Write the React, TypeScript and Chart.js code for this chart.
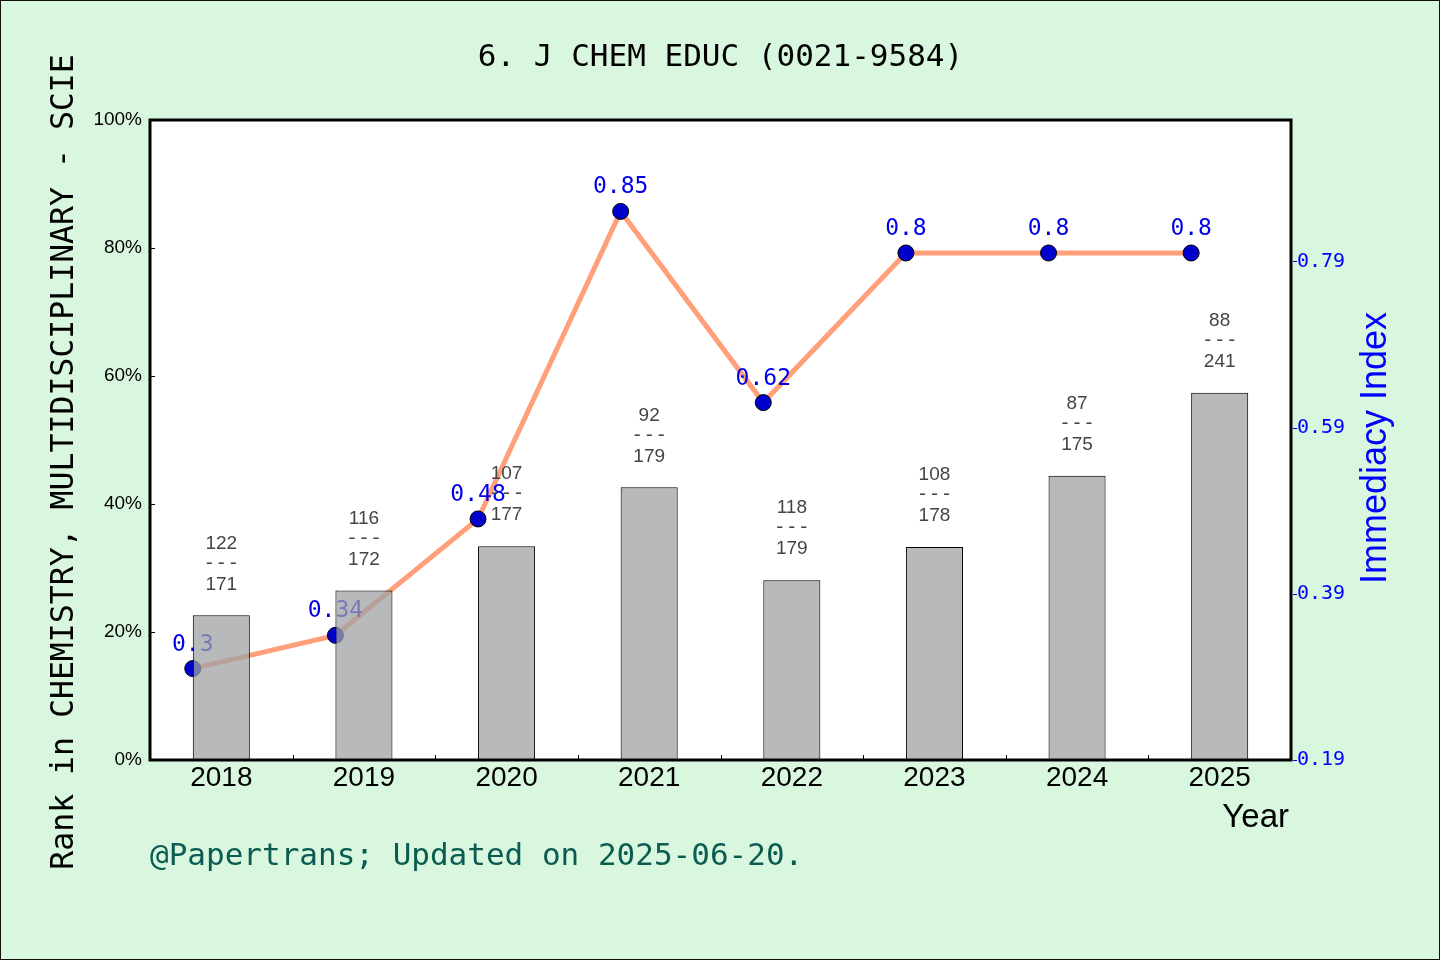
import { useEffect, useRef } from "react";
import { Chart, registerables } from "chart.js";

Chart.register(...registerables);

const years = ["2018", "2019", "2020", "2021", "2022", "2023", "2024", "2025"];
const rankPercent = [22.6, 26.5, 33.4, 42.6, 28.1, 33.3, 44.4, 57.4];
const ranks = [122, 116, 107, 92, 118, 108, 87, 88];
const totals = [171, 172, 177, 179, 179, 178, 175, 241];
const immediacy = [0.3, 0.34, 0.48, 0.85, 0.62, 0.8, 0.8, 0.8];
const immediacyLabels = ["0.3", "0.34", "0.48", "0.85", "0.62", "0.8", "0.8", "0.8"];
const leftTicks = [0, 20, 40, 60, 80, 100];
const rightTicks = [0.19, 0.39, 0.59, 0.79];

const TITLE = "6. J CHEM EDUC (0021-9584)";
const LEFT_TITLE = "Rank in CHEMISTRY, MULTIDISCIPLINARY - SCIE";
const RIGHT_TITLE = "Immediacy Index";
const X_TITLE = "Year";
const FOOTER = "@Papertrans; Updated on 2025-06-20.";

const LINE_SHIFT = -0.2;
const BG = "#d9f7de";
const MONO = "'DejaVu Sans Mono', monospace";
const SANS = "'Liberation Sans', Arial, sans-serif";

const decorPlugin = {
  id: "decor",
  beforeDraw(chart: any) {
    const { ctx, width, height, chartArea: a } = chart;
    ctx.save();
    ctx.fillStyle = BG;
    ctx.fillRect(0, 0, width, height);
    ctx.fillStyle = "#ffffff";
    ctx.fillRect(a.left, a.top, a.right - a.left, a.bottom - a.top);
    ctx.strokeStyle = "#111";
    ctx.lineWidth = 1;
    ctx.strokeRect(0.5, 0.5, width - 1, height - 1);
    ctx.restore();
  },
  afterDatasetDraw(chart: any, args: any) {
    const { ctx } = chart;
    const meta = chart.getDatasetMeta(args.index);
    ctx.save();
    if (meta.type === "line") {
      ctx.font = `23px ${MONO}`;
      ctx.fillStyle = "#0000e6";
      ctx.textAlign = "center";
      ctx.textBaseline = "middle";
      meta.data.forEach((pt: any, i: number) => {
        ctx.fillText(immediacyLabels[i], pt.x, pt.y - 24);
      });
    } else if (meta.type === "bar") {
      ctx.fillStyle = "#444";
      ctx.textAlign = "center";
      ctx.textBaseline = "middle";
      meta.data.forEach((bar: any, i: number) => {
        ctx.font = `19px ${SANS}`;
        ctx.fillText(String(ranks[i]), bar.x, bar.y - 72);
        ctx.fillText(String(totals[i]), bar.x, bar.y - 31);
        ctx.font = `20px ${MONO}`;
        ctx.fillText("---", bar.x, bar.y - 52);
      });
    }
    ctx.restore();
  },
  afterDraw(chart: any) {
    const { ctx, chartArea: a, scales } = chart;
    ctx.save();
    // plot frame
    ctx.strokeStyle = "#000";
    ctx.lineWidth = 3;
    ctx.strokeRect(a.left, a.top, a.right - a.left, a.bottom - a.top);
    // tick marks
    ctx.lineWidth = 1;
    ctx.beginPath();
    leftTicks.forEach((v) => {
      const y = Math.round(scales.y.getPixelForValue(v)) + 0.5;
      ctx.moveTo(a.left, y);
      ctx.lineTo(a.left + 5, y);
    });
    for (let i = 1; i < years.length; i++) {
      const x =
        Math.round((scales.x.getPixelForValue(i - 1) + scales.x.getPixelForValue(i)) / 2) + 0.5;
      ctx.moveTo(x, a.bottom);
      ctx.lineTo(x, a.bottom - 5);
    }
    ctx.stroke();
    ctx.strokeStyle = "#0000ff";
    ctx.beginPath();
    rightTicks.forEach((v) => {
      const y = Math.round(scales.y1.getPixelForValue(v)) + 0.5;
      ctx.moveTo(a.right + 2, y);
      ctx.lineTo(a.right + 6, y);
    });
    ctx.stroke();

    // title
    ctx.fillStyle = "#000";
    ctx.font = `31px ${MONO}`;
    ctx.textAlign = "center";
    ctx.textBaseline = "middle";
    ctx.fillText(TITLE, (a.left + a.right) / 2, 58);

    // left axis title
    ctx.save();
    ctx.translate(65, 462);
    ctx.rotate(-Math.PI / 2);
    ctx.font = `31.5px ${MONO}`;
    ctx.fillText(LEFT_TITLE, 0, 0);
    ctx.restore();

    // right axis title
    ctx.save();
    ctx.translate(1376, 448);
    ctx.rotate(-Math.PI / 2);
    ctx.fillStyle = "#0000ff";
    ctx.font = `36px ${SANS}`;
    ctx.fillText(RIGHT_TITLE, 0, 0);
    ctx.restore();

    // x title
    ctx.font = `33px ${SANS}`;
    ctx.textAlign = "right";
    ctx.fillStyle = "#000";
    ctx.fillText(X_TITLE, 1289, 818);

    // footer
    ctx.font = `31px ${MONO}`;
    ctx.textAlign = "left";
    ctx.fillStyle = "#0a5c50";
    ctx.fillText(FOOTER, 150, 857);
    ctx.restore();
  },
};

export default function App() {
  const ref = useRef<HTMLCanvasElement>(null);

  useEffect(() => {
    const canvas = ref.current;
    if (!canvas) return;
    const chart = new Chart(canvas, {
      type: "bar",
      data: {
        labels: years,
        datasets: [
          {
            type: "bar",
            label: "Rank",
            data: rankPercent,
            xAxisID: "x",
            yAxisID: "y",
            backgroundColor: "rgba(160,161,164,0.75)",
            borderColor: "#000",
            borderWidth: 1,
            barPercentage: 0.4,
            categoryPercentage: 1,
            grouped: false,
            order: 0,
          } as any,
          {
            type: "line",
            label: "Immediacy Index",
            data: immediacy.map((v, i) => ({ x: i + LINE_SHIFT, y: v })),
            xAxisID: "xl",
            yAxisID: "y1",
            borderColor: "#ffa07a",
            borderWidth: 5,
            pointRadius: 8,
            pointBackgroundColor: "#0000cc",
            pointBorderColor: "#000",
            pointBorderWidth: 1,
            tension: 0,
            order: 1,
          } as any,
        ],
      },
      options: {
        responsive: false,
        animation: false,
        devicePixelRatio: 1,
        layout: { padding: { top: 120, left: 0, right: 0, bottom: 0 } },
        plugins: {
          legend: { display: false },
          tooltip: { enabled: false },
          title: { display: false },
        },
        scales: {
          x: {
            type: "category",
            offset: true,
            grid: { display: false, drawTicks: false, tickLength: 0 },
            border: { display: false },
            ticks: {
              color: "#000",
              font: { family: SANS, size: 28 },
              padding: 1,
              maxRotation: 0,
            },
            afterFit: (s: any) => {
              s.height = 200;
            },
          },
          xl: {
            type: "linear",
            display: false,
            offset: false,
            min: -0.5,
            max: years.length - 0.5,
            grid: { offset: false },
          },
          y: {
            type: "linear",
            position: "left",
            min: 0,
            max: 100,
            grid: { display: false, drawTicks: false, tickLength: 0 },
            border: { display: false },
            afterBuildTicks: (s: any) => {
              s.ticks = leftTicks.map((v) => ({ value: v }));
            },
            ticks: {
              color: "#000",
              font: { family: SANS, size: 19 },
              padding: 8,
              callback: (v: any) => `${v}%`,
            },
            afterFit: (s: any) => {
              s.width = 150;
            },
          },
          y1: {
            type: "linear",
            position: "right",
            min: 0.19,
            max: 0.96,
            grid: { display: false, drawTicks: false, tickLength: 0 },
            border: { display: false },
            afterBuildTicks: (s: any) => {
              s.ticks = rightTicks.map((v) => ({ value: v }));
            },
            ticks: {
              color: "#0000ff",
              font: { family: MONO, size: 20 },
              padding: 6,
              callback: (v: any) => Number(v).toFixed(2),
            },
            afterFit: (s: any) => {
              s.width = 149;
            },
          },
        },
      } as any,
      plugins: [decorPlugin],
    });
    return () => chart.destroy();
  }, []);

  return (
    <div style={{ position: "fixed", left: 0, top: 0, width: 1440, height: 960 }}>
      <canvas ref={ref} width={1440} height={960} style={{ display: "block", width: 1440, height: 960 }} />
    </div>
  );
}
